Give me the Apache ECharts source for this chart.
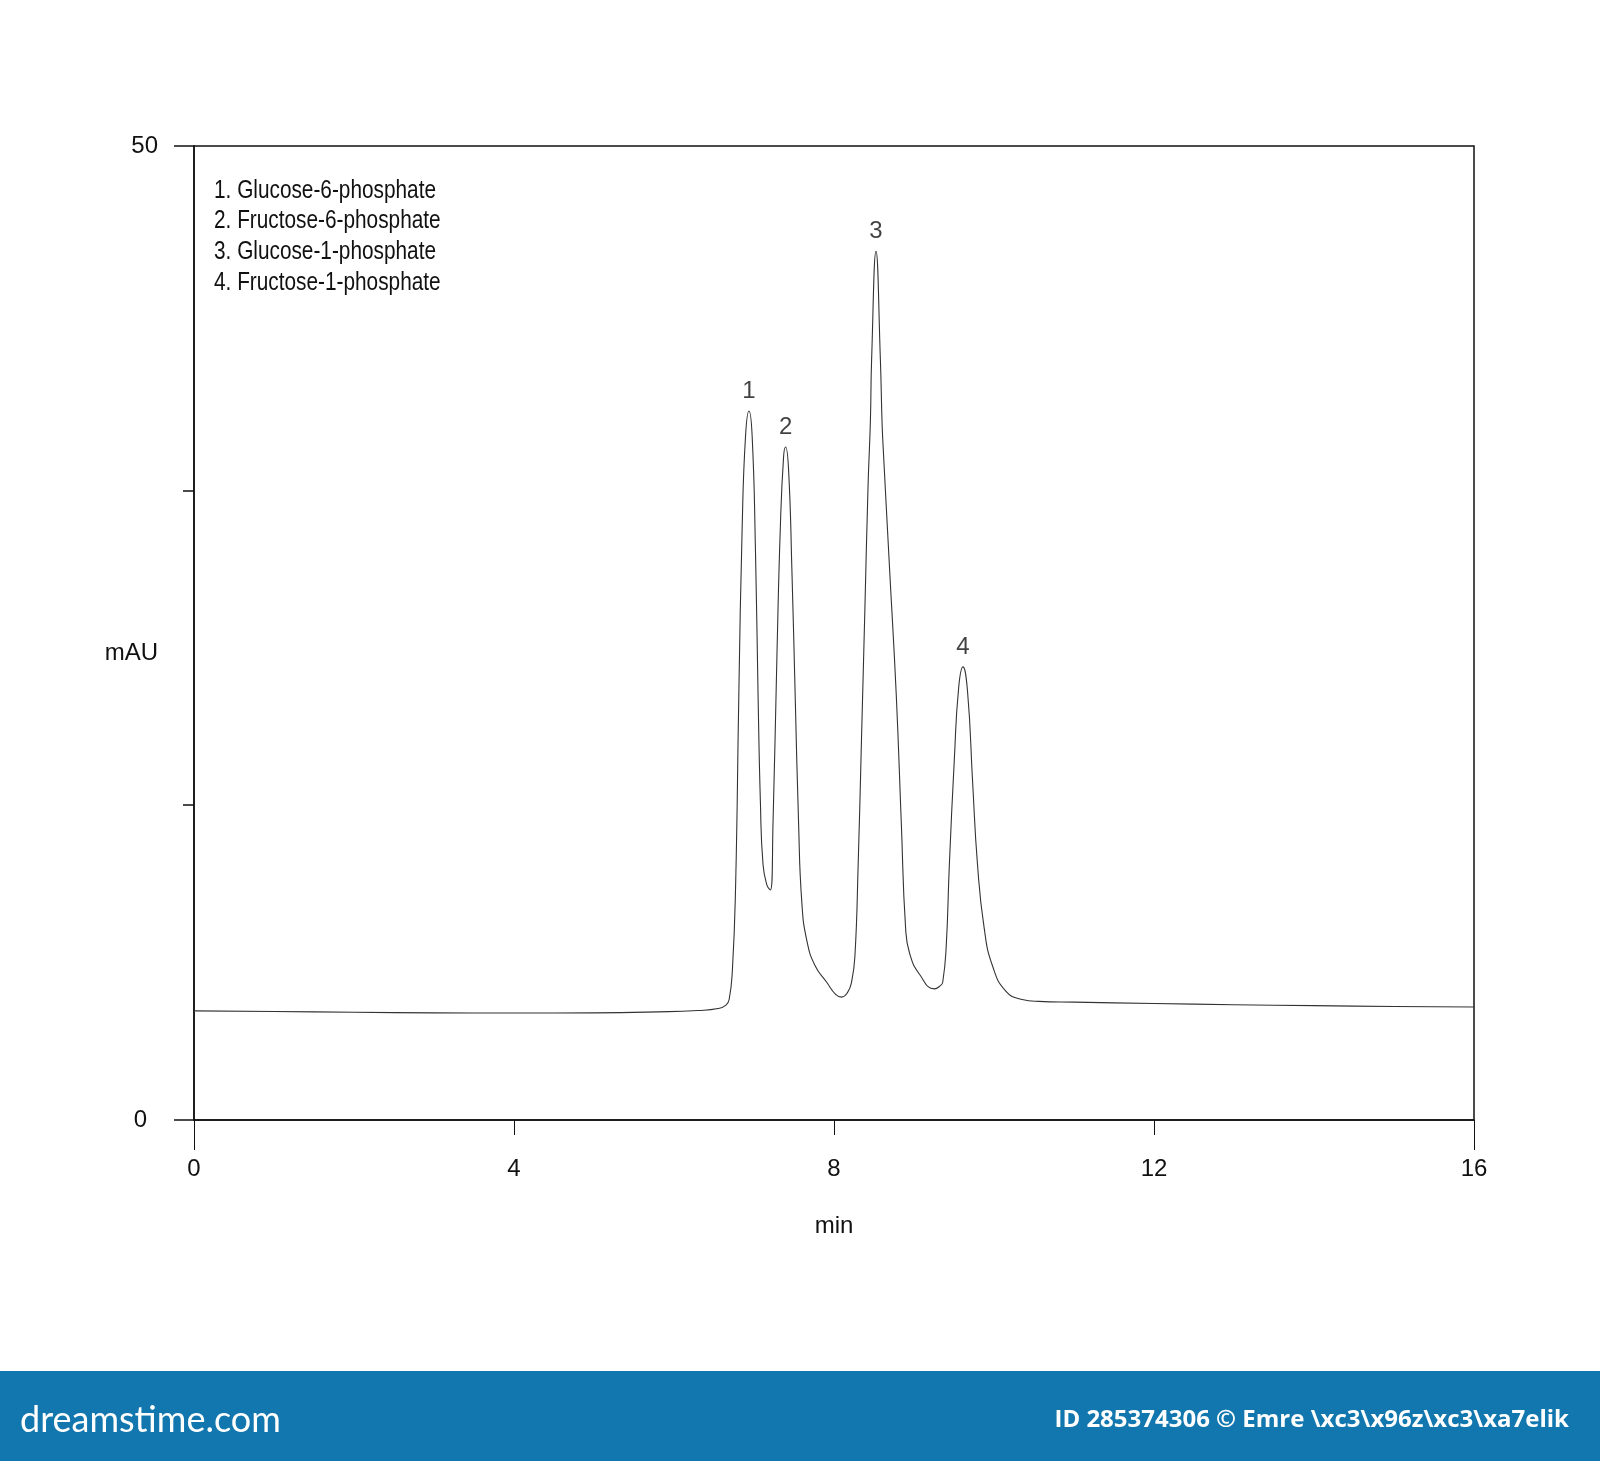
<!DOCTYPE html>
<html>
<head>
<meta charset="utf-8">
<script src="https://cdn.jsdelivr.net/npm/echarts@6/dist/echarts.min.js"></script>
<style>
html,body{margin:0;padding:0;background:#fff;}
#chart{width:1600px;height:1461px;}
</style>
</head>
<body>
<div id="chart"></div>
<script>
// ---- data ----
const timeMin = [0, 1, 2, 3, 4, 5, 5.8, 6.3, 6.55, 6.65, 6.69, 6.73, 6.77, 6.81, 6.852, 6.894, 6.937, 6.977, 7.018, 7.051, 7.08, 7.113, 7.163, 7.205, 7.238, 7.287, 7.329, 7.37, 7.395, 7.432, 7.474, 7.515, 7.557, 7.598, 7.661, 7.764, 7.909, 8.02, 8.095, 8.17, 8.219, 8.261, 8.302, 8.344, 8.385, 8.426, 8.455, 8.47, 8.525, 8.58, 8.6, 8.613, 8.696, 8.779, 8.841, 8.895, 8.945, 9.069, 9.256, 9.33, 9.359, 9.401, 9.442, 9.504, 9.558, 9.612, 9.67, 9.732, 9.794, 9.877, 9.981, 10.147, 10.352, 10.56, 11, 12, 13, 14, 15, 16];
const signalMAU = [5.60, 5.57, 5.53, 5.50, 5.49, 5.50, 5.55, 5.62, 5.72, 5.9, 6.2, 7.7, 12.0, 21.75, 30.4, 35.1, 36.4, 35.1, 29.3, 21.75, 16.33, 13.1, 12.04, 11.81, 15.29, 23.9, 30.4, 34.06, 34.55, 33.4, 28.2, 21.75, 15.29, 11.16, 9.2, 7.92, 7.07, 6.45, 6.31, 6.55, 7.07, 8.38, 13.1, 19.6, 26.07, 32.6, 35.9, 39.0, 44.6, 39.0, 35.9, 34.65, 28.2, 21.75, 15.29, 9.86, 8.56, 7.48, 6.73, 6.9, 7.07, 8.78, 13.1, 18.5, 22.18, 23.26, 21.96, 17.4, 13.1, 9.86, 7.92, 6.62, 6.19, 6.09, 6.05, 5.98, 5.92, 5.87, 5.83, 5.80];
const peakTimes = [6.937, 7.395, 8.525, 9.612];
const peakHeights = [36.4, 34.55, 44.6, 23.26];
const peakLabels = ['1', '2', '3', '4'];
const compounds = ['Glucose-6-phosphate', 'Fructose-6-phosphate', 'Glucose-1-phosphate', 'Fructose-1-phosphate'];
const xTicks = [0, 4, 8, 12, 16];
const xLongTicks = [0, 16];
const yLabelTicks = [0, 50];
const yMinorTicks = [16.2, 32.3];

// ---- chart ----
const FONT = '"Liberation Sans", Arial, sans-serif';
const chart = echarts.init(document.getElementById('chart'), null, {renderer: 'canvas'});
const lineData = timeMin.map((t, i) => [t, signalMAU[i]]);
const peakData = peakTimes.map((t, i) => ({value: [t, peakHeights[i]], name: peakLabels[i]}));
const gridPos = {left: 194, right: 126, top: 146, bottom: 341};

chart.setOption({
  animation: false,
  backgroundColor: '#ffffff',
  grid: [
    Object.assign({show: true, borderColor: '#111', borderWidth: 1.5, backgroundColor: 'transparent'}, gridPos),
    Object.assign({show: false}, gridPos)
  ],
  xAxis: [
    {
      type: 'value', gridIndex: 0, min: 0, max: 16, interval: 4,
      name: 'min', nameLocation: 'middle', nameGap: 94, nameMoveOverlap: false,
      nameTextStyle: {fontFamily: FONT, fontSize: 24, color: '#111'},
      axisLine: {show: true, onZero: false, lineStyle: {color: '#111', width: 1.5}},
      axisTick: {show: true, length: 15, customValues: xTicks, lineStyle: {color: '#111', width: 1}},
      axisLabel: {fontFamily: FONT, fontSize: 24, color: '#111', margin: 37, customValues: xTicks},
      splitLine: {show: false}
    },
    {
      type: 'value', gridIndex: 1, min: 0, max: 16,
      axisLine: {show: false},
      axisTick: {show: true, length: 30, customValues: xLongTicks, lineStyle: {color: '#111', width: 1}},
      axisLabel: {show: false},
      splitLine: {show: false}
    }
  ],
  yAxis: [
    {
      type: 'value', gridIndex: 0, min: 0, max: 50,
      name: 'mAU', nameLocation: 'middle', nameGap: 36, nameRotate: 0, nameMoveOverlap: false,
      nameTextStyle: {fontFamily: FONT, fontSize: 24, color: '#111', verticalAlign: 'top', padding: [8, 0, 0, 0]},
      axisLine: {show: true, onZero: false, lineStyle: {color: '#111', width: 1.5}},
      axisTick: {show: true, length: 20, customValues: yLabelTicks, lineStyle: {color: '#111', width: 1.5}},
      axisLabel: {
        fontFamily: FONT, fontSize: 24, color: '#111', margin: 36, customValues: yLabelTicks,
        formatter: v => v === 0 ? '{z|0}' : String(v),
        rich: {z: {fontFamily: FONT, fontSize: 24, color: '#111', padding: [0, 11, 0, 0]}}
      },
      splitLine: {show: false}
    },
    {
      type: 'value', gridIndex: 1, min: 0, max: 50,
      axisLine: {show: false},
      axisTick: {show: true, length: 11, customValues: yMinorTicks, lineStyle: {color: '#111', width: 1.5}},
      axisLabel: {show: false},
      splitLine: {show: false}
    }
  ],
  graphic: [
    {
      type: 'text', x: 214, y: 175, scaleX: 0.80,
      style: {
        text: compounds.map((c, i) => (i + 1) + '. ' + c).join('\n'),
        font: '26px ' + FONT, fill: '#111', lineHeight: 30.8
      }
    },
    {
      type: 'rect', left: 0, top: 1371, z: 0,
      shape: {width: 1600, height: 90},
      style: {fill: '#1177ae'}
    },
    {
      type: 'text', left: 20, top: 1402, z: 1,
      style: {text: 'dreamstime.com', font: '36px Lato, "Open Sans", sans-serif', fill: '#ffffff'}
    },
    {
      type: 'text', right: 31, top: 1408, z: 1,
      style: {text: 'ID 285374306 \u00a9 Emre \\xc3\\x96z\\xc3\\xa7elik', font: 'bold 24px "Open Sans", sans-serif', fill: '#ffffff'}
    }
  ],
  series: [
    {
      type: 'line', xAxisIndex: 0, yAxisIndex: 0,
      data: lineData, showSymbol: false, symbol: 'none',
      smooth: 0.5,
      lineStyle: {color: '#333', width: 1.1}
    },
    {
      type: 'scatter', xAxisIndex: 0, yAxisIndex: 0,
      data: peakData, symbolSize: 0, silent: true,
      label: {show: true, position: 'top', distance: 8, formatter: p => p.name,
        fontFamily: FONT, fontSize: 24, color: '#111'}
    }
  ]
});
</script>
</body>
</html>
